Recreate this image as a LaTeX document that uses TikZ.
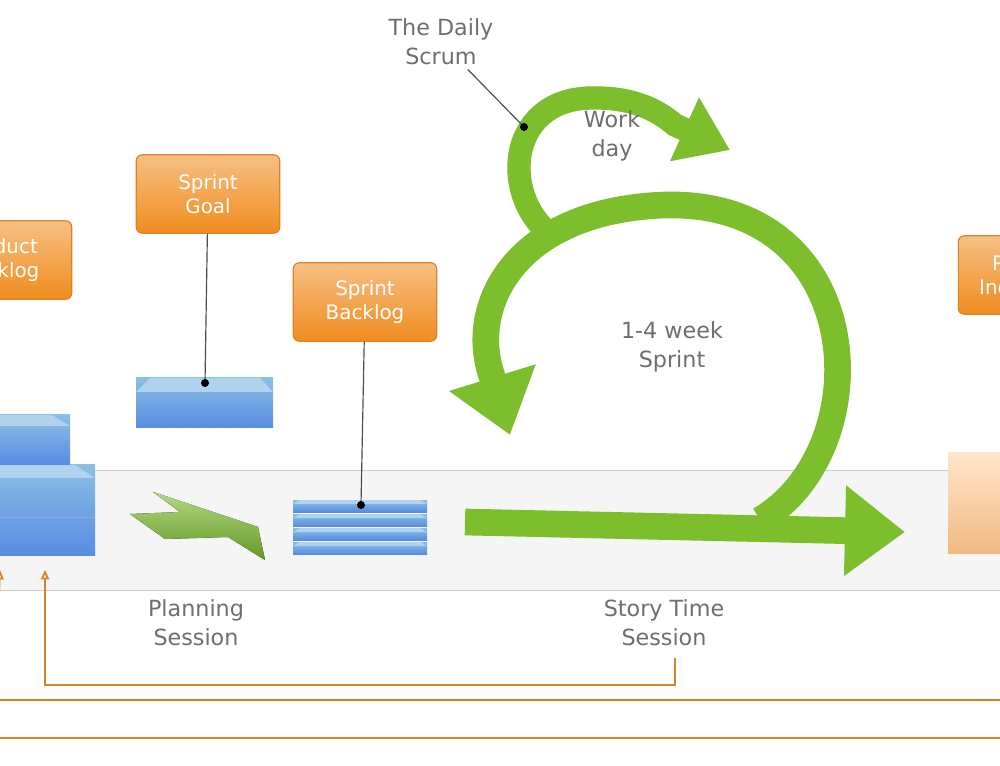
\documentclass[tikz,border=0pt]{standalone}
\usepackage{fontspec}
\setmainfont{DejaVu Sans}
\usetikzlibrary{arrows.meta,positioning,shapes}
\definecolor{obox}{RGB}{240,140,30}
\definecolor{oline}{RGB}{222,130,40}
\definecolor{sgreen}{RGB}{125,190,45}
\definecolor{sblue}{RGB}{110,175,220}
\definecolor{txt}{RGB}{110,110,110}
\tikzset{
  box/.style={draw=oline, line width=1pt, rounded corners=5pt, top color=obox!55!white, bottom color=obox,
    text=white, align=center, minimum width=4.3cm, minimum height=2.35cm, font=\fontsize{17}{21}\selectfont},
  label/.style={text=txt, align=center, font=\fontsize{19}{25}\selectfont},
  slab/.style={top color=sblue!80!white, bottom color=sblue!80!blue},
  slabtop/.style={fill=sblue!55!white},
  band/.style={draw=sgreen, line width=0.8cm},
  feed/.style={draw=oline, line width=1.5pt}
}
\begin{document}
\begin{tikzpicture}[x=0.03cm, y=-0.03cm]
\useasboundingbox (0,0) rectangle (1000,766);
\clip (0,0) rectangle (1000,766);
% floor
\fill[gray!8] (0,470) rectangle (1000,590);
\draw[gray!40] (0,470) -- (1000,470) (0,590) -- (1000,590);
% boxes
\node[box] (pb) at (0,260) {Product\\Backlog};
\node[box] (sg) at (208,194) {Sprint\\Goal};
\node[box] (sb) at (365,302) {Sprint\\Backlog};
\node[box] (pi) at (1030,275) {Product\\Increment};
% product backlog stack
\fill[slab] (-10,465) rectangle (95,555);
\fill[slabtop] (-10,465) -- (75,465) -- (95,478) -- (-10,478) -- cycle;
\draw[sblue!60!blue!60!white] (-10,517) -- (95,517);
\fill[slab] (-10,415) rectangle (70,465);
\fill[slabtop] (-10,415) -- (52,415) -- (70,426) -- (-10,426) -- cycle;
% sprint goal slab
\fill[slab] (136,378) rectangle (273,428);
\fill[slabtop] (150,378) -- (260,378) -- (273,392) -- (136,392) -- cycle;
\coordinate (sgdot) at (205,383);
% sprint backlog plates
\foreach \y in {500,514,528,542}{
  \fill[slab] (293,\y) rectangle (427,\y+12);
  \fill[slabtop] (300,\y) -- (420,\y) -- (427,\y+4) -- (293,\y+4) -- cycle;
}
\coordinate (sbdot) at (361,505);
\draw[black!70, line width=1pt] (sg) -- (sgdot);
\fill (sgdot) circle (4);
\draw[black!70, line width=1pt] (sb) -- (sbdot);
\fill (sbdot) circle (4);
% planning arrow
\fill[top color=sgreen!60!white, bottom color=sgreen!80!black]
  (130,514) -- (180,512) -- (153,492) -- (258,527) -- (265,560) -- (228,537) -- (165,539) -- cycle;
% sprint loop
\draw[band, -{Triangle[length=1.8cm, width=2.6cm]}] (465,522) -- (905,532);
\draw[band, -{Triangle[length=1.8cm, width=2.6cm]}] (760,520) .. controls (880,450) and (870,200) .. (665,205)
  .. controls (520,210) and (470,300) .. (490,370) -- (510,435);
% daily scrum loop
\draw[band, line width=0.7cm, -{Triangle[length=1.5cm, width=2.0cm]}] (555,238) .. controls (500,200) and (505,100) .. (590,98)
  .. controls (630,97) and (655,108) .. (675,125) -- (730,150);
% shippable product
\fill[top color=orange!20!white, bottom color=brown!40!orange!55!white] (948,453) rectangle (1000,553);
% labels
\node[label] (ds) at (441,42) {The Daily\\Scrum};
\coordinate (dsdot) at (524,127);
\draw[black!70, line width=1pt] (ds) -- (dsdot);
\fill (dsdot) circle (4);
\node[label] (wd) at (612,136) {Work\\day};
\node[label] (sp) at (672,347) {1-4 week\\Sprint};
\node[label] (ps) at (196,623) {Planning\\Session};
\node[label] (st) at (664,623) {Story Time\\Session};
\node[label] (sr) at (1040,623) {Sprint\\Review};
% feedback lines
\coordinate (fb1) at (675,658);
\coordinate (fb2) at (45,570);
\draw[feed, -{Triangle[open, length=8pt, width=7pt]}] (fb1) |- (45,685) -- (fb2);
\draw[feed, -{Triangle[open, length=8pt, width=7pt]}] (-5,700) -- (0,570);
\draw[feed] (0,700) -- (1000,700);
\draw[feed] (0,738) -- (1000,738);
\end{tikzpicture}
\end{document}
